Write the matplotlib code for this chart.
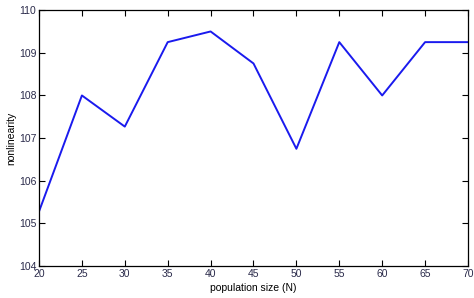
import matplotlib
matplotlib.use("Agg")
import matplotlib.pyplot as plt

population = [20, 25, 30, 35, 40, 45, 50, 55, 60, 65, 70]
nonlinearity = [105.28, 108.0, 107.27, 109.25, 109.5, 108.75, 106.75, 109.25, 108.0, 109.25, 109.25]
xticks = [20, 25, 30, 35, 40, 45, 50, 55, 60, 65, 70]
yticks = [104, 105, 106, 107, 108, 109, 110]

plt.rcParams['font.family'] = ['Liberation Sans', 'DejaVu Sans']
fig = plt.figure(figsize=(4.74, 2.98), dpi=100)
ax = fig.add_axes([0.0823, 0.107, 0.905, 0.859])
ax.plot(population, nonlinearity, color='#1a1aee', linewidth=1.4)
ax.set_xlim(20, 70)
ax.set_ylim(104, 110)
ax.set_xticks(xticks)
ax.set_yticks(yticks)
ax.tick_params(direction='in', top=True, right=True, length=4, width=0.8,
               labelsize=7.5, labelcolor='#2a2a4a', pad=2)
for s in ax.spines.values():
    s.set_linewidth(0.9)
ax.set_xlabel('population size (N)', fontsize=7.5, labelpad=3)
ax.set_ylabel('nonlinearity', fontsize=7.5, labelpad=2)
fig.savefig('out.png', dpi=100)
